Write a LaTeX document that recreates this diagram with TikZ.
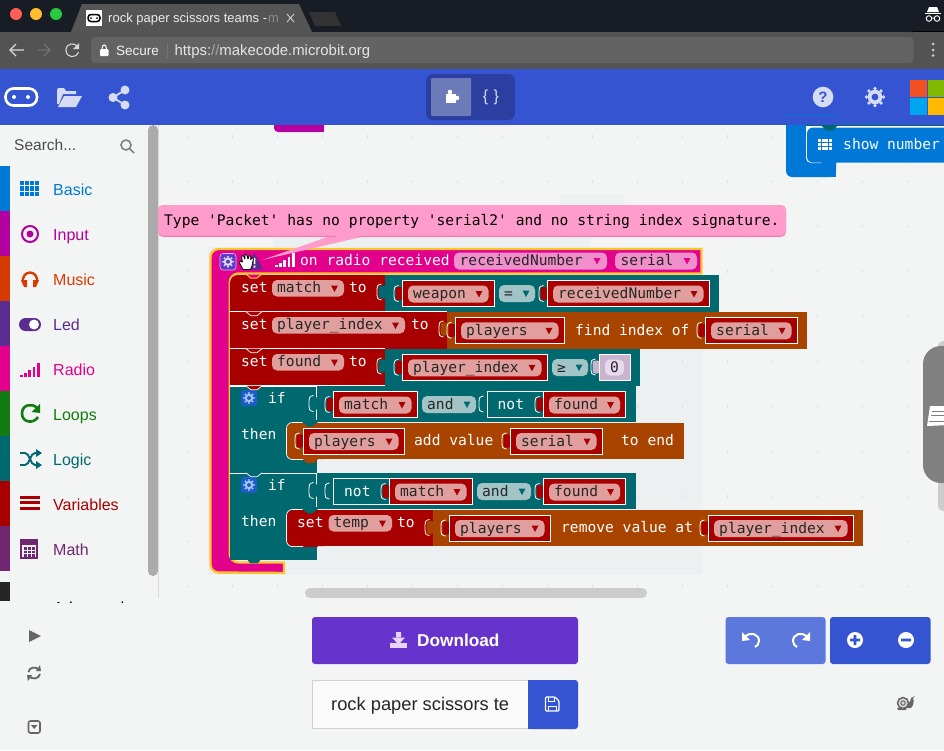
\documentclass[tikz,border=0pt]{standalone}
\usepackage{fontspec}
\setmainfont{Liberation Sans}
\newfontfamily\mono{DejaVu Sans Mono}
\newcommand{\blk}{\mono\fontsize{14.6}{16}\selectfont}
\newcommand{\ui}[1]{\fontsize{#1}{#1}\selectfont}
\definecolor{bgc}{HTML}{F3F5F4}
\definecolor{hlc}{HTML}{ECF0F1}
\definecolor{hdr}{HTML}{3454D1}
\definecolor{hdrd}{HTML}{2C3E9F}
\definecolor{hdra}{HTML}{6B7AB8}
\definecolor{tealb}{HTML}{006970}
\definecolor{redb}{HTML}{A80000}
\definecolor{brownb}{HTML}{A94400}
\definecolor{pinkb}{HTML}{E3008C}
\definecolor{pillr}{HTML}{E09F9C}
\definecolor{pillt}{HTML}{A2C4C6}
\definecolor{pillp}{HTML}{F08FCB}
\definecolor{yel}{HTML}{FFC52E}
\definecolor{iconl}{HTML}{D5DCF3}
\definecolor{tip}{HTML}{FF9CCB}
\definecolor{tipd}{HTML}{EE82B8}
\definecolor{tabbar}{HTML}{181C24}
\definecolor{tabc}{HTML}{555555}
\definecolor{toolc}{HTML}{535353}
\definecolor{addr}{HTML}{636363}
\definecolor{basicc}{HTML}{0078D7}
\definecolor{inputc}{HTML}{B4009E}
\definecolor{musicc}{HTML}{D83B01}
\definecolor{ledc}{HTML}{5C2D91}
\definecolor{loopc}{HTML}{107C10}
\definecolor{mathc}{HTML}{712672}
\definecolor{purp}{HTML}{6633CC}
\definecolor{undoc}{HTML}{5C78DC}
\definecolor{lav}{HTML}{C9B3CF}
\definecolor{lavl}{HTML}{E8D9EC}
\definecolor{tlr}{HTML}{FF5F57}
\definecolor{tly}{HTML}{FFBD2E}
\definecolor{tlg}{HTML}{28C940}
\definecolor{msr}{HTML}{F25022}
\definecolor{msg}{HTML}{7FBA00}
\definecolor{msb}{HTML}{00A4EF}
\definecolor{msy}{HTML}{FFB900}
\definecolor{gearb}{HTML}{1B5CC8}
\definecolor{gearl}{HTML}{A8C4F0}
\definecolor{dlic}{HTML}{E8D4F8}
\newcommand{\Bx}[6]{\fill[#5,rounded corners=#6pt] (#1,#2) rectangle (#3,#4);}
\newcommand{\Tx}[5]{\node[anchor=base west,inner sep=0pt,text=#1,font=#2] at (#3,#4) {#5};}
\newcommand{\Dn}[3]{\fill[#3] (#1-3.5,#2-3) -- (#1+3.5,#2-3) -- (#1,#2+3.5) -- cycle;}
% tab: x of block edge, y centre, colour
\newcommand{\Tb}[3]{\fill[#3,rounded corners=2.5pt] (#1-6.5,#2-6.5) rectangle (#1+1,#2+6.5);
 \draw[white,line width=.8pt] (#1-3.5,#2-8) .. controls (#1-8,#2-7.5) and (#1-8,#2-5) .. (#1-8,#2-3) -- (#1-8,#2+3) .. controls (#1-8,#2+5) and (#1-8,#2+7.5) .. (#1-3.5,#2+8);}
% value block: x0,x1,y0,text
\newcommand{\VB}[4]{\Tb{#1}{#3+13}{redb}
 \fill[redb,draw=white,line width=.8pt] (#1,#3) rectangle (#2,#3+26);
 \Bx{#1+6}{#3+5}{#2-5.5}{#3+22}{pillr}{5}
 \Tx{black!85}{\blk}{#1+11}{#3+18}{#4}
 \Dn{#2-15}{#3+13.5}{redb}}
% label pill on teal
\newcommand{\TP}[4]{\Bx{#1}{#2}{#3}{#2+17}{pillt}{5}
 \Tx{black!85}{\blk}{#1+5}{#2+13}{#4}
 \Dn{#3-9}{#2+8.5}{tealb}}
% label pill on red
\newcommand{\RP}[4]{\Bx{#1}{#2}{#3}{#2+16.5}{pillr}{5}
 \Tx{black!85}{\blk}{#1+5}{#2+12.5}{#4}
 \Dn{#3-9.5}{#2+8.5}{redb}}
% statement notch at separator
\newcommand{\Nt}[3]{\fill[#3] (#1-8,#2) -- (#1-3,#2+4) -- (#1+3,#2+4) -- (#1+8,#2) -- cycle;
 \draw[white,line width=.7pt] (#1-8,#2) -- (#1-3,#2+4) -- (#1+3,#2+4) -- (#1+8,#2);}
\newcommand{\Gr}[5]{\begin{scope}[shift={(#1,#2)}]
 \foreach \a in {0,45,...,315} {\fill[#4] (\a:#3) circle (.22*#3);}
 \fill[#4] (0,0) circle (.85*#3);\fill[#5] (0,0) circle (.4*#3);\end{scope}}
\newcommand{\GridIc}[4]{\foreach \i in {0,1,2,3}{\foreach \j in {0,1,2}{\fill[#3] (#1+\i*#4,#2+\j*#4*1.05) rectangle ++(#4*.82,#4*.85);}}}
\newcommand{\BarsIc}[3]{\foreach \i/\h in {0/2,1/4,2/7,3/10,4/14}{\fill[#3] (#1+\i*4.2,#2-\h) rectangle ++(2.8,\h);}}
\newcommand{\IfRow}[1]{% y0 = top of if block
 \fill[tealb] (230,#1) rectangle (316.5,#1+87);
 \fill[tealb] (316.5,#1) rectangle (636,#1+36);
 \draw[white,line width=.7pt] (316.5,#1) -- (316.5,#1+34);
 \draw[white,line width=.8pt] (230,#1) -- (316,#1);
 \Bx{241}{#1+4}{257}{#1+20}{gearb}{3}
 \Gr{249}{#1+12}{5}{gearl}{gearb}
 \Tx{white}{\blk}{268}{#1+17}{if}
 \Tx{white}{\blk}{241}{#1+53}{then}}
\begin{document}
\begin{tikzpicture}[x=1pt,y=-1pt]
\useasboundingbox (0,0) rectangle (944,750);
\clip (0,0) rectangle (944,750);
% page
\fill[bgc] (0,0) rectangle (944,750);
% ---------- browser chrome
\fill[tabbar] (0,0) rectangle (944,32);
\fill[tabc] (71,32) -- (82,4) -- (299,4) -- (312,32) -- cycle;
\fill[tlr] (16,14) circle (6);
\fill[tly] (36,14) circle (6);
\fill[tlg] (56,14) circle (6);
\Bx{86}{10}{102}{26}{white}{0}
\draw[black,line width=1.5pt,rounded corners=3pt] (88,14.5) rectangle (100,21.5);
\fill[black] (91,18) circle (1) (97,18) circle (1);
\Tx{white!92!black}{\ui{13}}{108}{22.5}{rock paper scissors teams -}
\Tx{white!55!black}{\ui{13}}{268}{22.5}{m}
\draw[white!80!black,line width=.9pt] (287,14) -- (294,22) (294,14) -- (287,22);
\fill[black!80] (309,12) -- (335,12) -- (341,26) -- (315,26) -- cycle;
% incognito
\fill[white] (929,7) -- (937,7) -- (939,12) -- (927,12) -- cycle;
\draw[white,line width=1pt] (925,13) -- (941,13);
\draw[white,line width=.9pt] (929,18.5) circle (2.8) (937,18.5) circle (2.8) (932,18) -- (934,18);
\fill[black] (913,31) rectangle (944,32);
% toolbar
\fill[toolc] (0,32) rectangle (944,69);
\Bx{91}{37}{913.5}{63}{addr}{4}
\draw[white!85!black,line width=1.1pt] (24,50) -- (10,50) (16,44) -- (10,50) -- (16,56);
\draw[white!45!black,line width=1.1pt] (50,50) -- (38,50) (44,44) -- (50,50) -- (44,56);
\draw[white!85!black,line width=1.1pt] (78,47) .. controls (75,42) and (66,43) .. (66,50) .. controls (66,58) and (76,59) .. (78.5,52);
\fill[white!85!black] (79,43) -- (79,49) -- (73,49) -- cycle;
\Bx{100}{49}{108.5}{56}{white}{1}
\draw[white,line width=1pt] (102,49) .. controls (102,43.5) and (106.5,43.5) .. (106.5,49);
\Tx{white!95!black}{\ui{13.5}}{116}{55}{Secure}
\draw[white!45!black,line width=.8pt] (167.5,43) -- (167.5,58);
\node[anchor=base west,inner sep=0pt,font=\ui{14.9},text=white!90!black] (url) at (174.5,55) {https:\textcolor{white!65!black}{//}makecode.microbit.org};
\fill[white!80!black] (933,44) circle (1.5) (933,50) circle (1.5) (933,55.5) circle (1.5);
% ---------- header
\fill[hdr] (0,69) rectangle (944,125);
\draw[white,line width=2.6pt,rounded corners=8pt] (5.5,88.5) rectangle (37,105.5);
\fill[white] (14,97) circle (2) (28,97) circle (2);
\fill[iconl] (57,104) -- (57,90) -- (58,88) -- (64,88) -- (66,91) -- (76,91) -- (76,94) -- (63,94) -- (59,104) -- cycle;
\fill[iconl] (64,96) -- (82,96) -- (76,107) -- (58,107) -- cycle;
\draw[iconl,line width=1.8pt] (125,90) -- (113,97.5) -- (125,105);
\fill[iconl] (125,90) circle (4.5) (113,97.5) circle (4.5) (125,105) circle (4.5);
\Bx{426}{74}{515}{120}{hdrd}{7}
\Bx{431}{78}{471}{116}{hdra}{1}
\fill[white] (446,94) rectangle (456,103);
\fill[white] (450,92) circle (2.3);
\fill[white] (457,98) circle (2.3);
\node[text=iconl,font=\ui{16},inner sep=0pt] (curly) at (491,97) {\{\,\,\}};
\fill[iconl] (823,97) circle (10.3);
\node[font=\bfseries\ui{15},text=hdr,inner sep=0pt] (help) at (823,97) {?};
\Gr{875}{97}{8.5}{iconl}{hdr}
\Bx{910}{80}{927}{97}{msr}{0}
\Bx{928}{80}{945}{97}{msg}{0}
\Bx{910}{98}{927}{115}{msb}{0}
\Bx{928}{98}{945}{115}{msy}{0}
% ---------- workspace grid & highlight
\fill[hlc] (561,195) rectangle (625,205);
\fill[hlc] (273,236) rectangle (590,247);
\fill[hlc] (208,247) rectangle (703,575);
\foreach \gx in {0,...,17}{\foreach \gy in {0,...,10}{
 \draw[blue!14!white,line width=.6pt] (187+\gx*45,136+\gy*45-1.5) -- (187+\gx*45,136+\gy*45+1.5);}}
% magenta stub
\fill[inputc,rounded corners=4pt] (274,120) rectangle (324,132);
\fill[inputc] (290,120) rectangle (324,132);
\fill[hdr] (270,110) rectangle (330,125);
% show number
\fill[basicc,rounded corners=6pt] (786,115) rectangle (836,177);
\fill[basicc] (786,115) rectangle (836,130);
\fill[basicc] (820,160) rectangle (836,177);
\fill[white,rounded corners=5pt] (806,120) rectangle (950,163);
\fill[tealb] (806,120) rectangle (950,126);
\fill[white] (806,125.5) rectangle (950,127);
\fill[basicc,rounded corners=6pt] (807,127.5) rectangle (950,162.7);
\fill[basicc] (830,127.5) rectangle (950,140);
\fill[tealb] (821,125) -- (826,130.5) -- (833,130.5) -- (838,125) -- cycle;
\fill[basicc] (818,159) -- (825,166) -- (833,166) -- (840,159) -- cycle;
\GridIc{818}{139}{white}{3.7}
\Tx{white}{\blk}{843}{149.5}{show number}
\fill[hdr] (780,116) rectangle (944,125);
% right handle
\Bx{938}{341}{960}{511}{white!80!black}{5}
\Bx{923}{346}{970}{483}{white!50!black}{18}
\fill[white] (930,406) -- (950,406) -- (950,425) -- (927,426) -- cycle;
\draw[white!50!black,line width=.8pt] (932,411) -- (944,411) (931,415) -- (944,415) (929,421) -- (944,421);
% ---------- toolbox
\fill[bgc] (0,125) rectangle (148,598);
\Tx{black!70}{\ui{15.5}}{14}{150.5}{Search...}
\draw[black!50,line width=1.6pt] (126,145) circle (5) (130,149) -- (134,153);
\foreach \cc/\yy/\lbl in {basicc/166/Basic,inputc/211/Input,musicc/256/Music,ledc/301/Led,pinkb/346/Radio,loopc/391/Loops,tealb/436/Logic,redb/481/Variables,mathc/526/Math}{
 \fill[\cc] (0,\yy) rectangle (10,\yy+45);
 \Tx{\cc}{\ui{16}}{53}{\yy+29}{\lbl}}
\GridIc{20}{181}{basicc}{5}
\draw[inputc,line width=2pt] (30,234) circle (8);
\fill[inputc] (30,234) circle (3.5);
\draw[musicc,line width=2.4pt] (23,283) .. controls (21,269) and (39,269) .. (37,283);
\fill[musicc] (21,280) -- (27,280) -- (27,287) -- (24,287) -- cycle;
\fill[musicc] (33,280) -- (39,280) -- (36,287) -- (33,287) -- cycle;
\Bx{19}{318}{41}{331}{ledc}{6.5}
\fill[white] (34,324.5) circle (5);
\BarsIc{20}{377}{pinkb}
\draw[loopc,line width=2.6pt] (37,408) .. controls (33,403) and (22,404) .. (22,413.5) .. controls (22,423) and (34,424) .. (38,417);
\fill[loopc] (40,404) -- (40,413) -- (31.5,412) -- cycle;
\draw[tealb,line width=1.9pt] (20,453) -- (25,453) .. controls (30,453) and (30,465) .. (35,465) -- (38,465) (20,465) -- (25,465) .. controls (30,465) and (30,453) .. (35,453) -- (38,453);
\fill[tealb] (36,449) -- (42,453) -- (36,457) -- cycle (36,461) -- (42,465) -- (36,469) -- cycle;
\foreach \yy in {497,502.5,508}{\fill[redb] (20,\yy-1.5) rectangle (40,\yy+1.5);}
\draw[mathc,line width=1.5pt] (21,540) rectangle (37,558);
\fill[mathc] (21,540) rectangle (37,545);
\foreach \i in {0,1,2}{\foreach \j in {0,1,2}{\fill[mathc] (23.5+\i*4,547+\j*3.5) rectangle ++(3,2.5);}}
\fill[black!85] (0,582) rectangle (10,601);
\begin{scope}
\clip (40,598) rectangle (148,602.5);
\Tx{black}{\ui{16}}{53}{613}{Advanced}
\end{scope}
\Bx{148}{125}{158}{576}{white!67!black}{5}
\draw[white!85!black,line width=.7pt] (158.8,125) -- (158.8,598);
% ---------- lower scrollbar
\Bx{305}{588}{647}{598}{white!80!black}{5}
% ---------- hat block
\draw[fill=pinkb,draw=yel,line width=2.4pt] (284,573) -- (284,562.5) [rounded corners=9pt] -- (229.7,562.5) -- (229.7,273.5) [sharp corners] -- (701.5,273.5) -- (701.5,249) [rounded corners=8pt] -- (210.5,249) -- (210.5,572.5) [sharp corners] -- cycle;
\Bx{220}{253.5}{236}{270}{purp}{3}
\Gr{228}{261.7}{5}{iconl}{purp}
\draw[white!70!purp,line width=.6pt,rounded corners=3pt] (220,253.5) rectangle (236,270);
\fill[tip] (333,235) -- (370,235) -- (262,260) -- cycle;
\fill[ledc] (254.5,253) -- (263,269.5) -- (246,269.5) -- cycle;
\fill[white] (253.7,258) rectangle (255.3,264) (253.7,265.5) rectangle (255.3,267.5);
\BarsIc{275}{267}{white}
\Tx{white}{\blk}{300}{265.5}{on radio received}
\Bx{454}{252.5}{607}{269.5}{pillp}{5}
\Tx{black!85}{\blk}{459.5}{265.5}{receivedNumber}
\Dn{597}{261}{pinkb}
\Bx{615}{252.5}{697}{269.5}{pillp}{5}
\Tx{black!85}{\blk}{620.5}{265.5}{serial}
\Dn{687}{261}{pinkb}
% ---------- tooltip
\fill[tipd,rounded corners=5pt] (158,205) rectangle (786,237);
\fill[tip,rounded corners=5pt] (158,205) rectangle (786,235.5);
\fill[tip] (333,234) -- (370,234) -- (340,240) -- cycle;
\Tx{black}{\blk}{164}{225}{Type 'Packet' has no property 'serial2' and no string index signature.}
% ---------- hand cursor
\draw[fill=white,draw=black,line width=.8pt,rounded corners=.8pt] (243,269.5) -- (239.5,263) -- (240,260.5) -- (242.5,262.5) -- (241.5,256) -- (243.5,255.5) -- (245,259.5) -- (245,254.5) -- (247,254.5) -- (248,259.5) -- (249,255.5) -- (251,256) -- (250.5,260) -- (252,257.5) -- (253.5,258.5) -- (252,266) -- (250.5,269.5) -- cycle;
% ---------- set match
\fill[redb,rounded corners=8pt] (230,311.5) -- (230,275) -- (300,275) [sharp corners] -- (300,311.5) -- cycle;
\fill[redb] (240,290) rectangle (385,311.5);
\fill[redb] (230,295) rectangle (240,311.5);
\fill[redb] (290,275) rectangle (385,295);
\fill[tealb] (385,275) rectangle (719,311.5);
\fill[pinkb,draw=yel,line width=1pt] (246,274) -- (250.5,278) -- (257,278) -- (262,274) -- cycle;
\Tb{385}{292}{tealb}
\Tx{white}{\blk}{241}{292.5}{set}
\RP{272}{280}{344}{match}
\Tx{white}{\blk}{349}{292.5}{to}
\VB{402}{494}{280.5}{weapon}
\TP{499}{285}{535}{=}
\VB{547}{709}{280.5}{receivedNumber}
% ---------- set player_index
\fill[redb] (230,312) rectangle (447,348.5);
\fill[brownb] (447,312) rectangle (807,348.5);
\draw[white,line width=.8pt] (230,311.7) -- (447,311.7);
\Nt{254}{311.7}{redb}
\Tb{447}{329}{brownb}
\Tx{white}{\blk}{241}{329.5}{set}
\RP{272}{317}{405}{player\_index}
\Tx{white}{\blk}{411}{329.5}{to}
\VB{455}{564}{317.3}{players}
\Tx{white}{\blk}{575}{335.5}{find index of}
\VB{705}{797}{317.3}{serial}
% ---------- set found
\fill[redb] (230,349) rectangle (385,385.5);
\fill[tealb] (385,349) rectangle (640,385.5);
\draw[white,line width=.8pt] (230,348.7) -- (385,348.7);
\Nt{254}{348.7}{redb}
\Tb{385}{366}{tealb}
\Tx{white}{\blk}{241}{366.5}{set}
\RP{272}{354}{344}{found}
\Tx{white}{\blk}{349}{366.5}{to}
\VB{402}{547}{354.3}{player\_index}
\TP{552}{359}{588}{≥}
\Tb{599}{367}{lav}
\fill[lav,draw=white,line width=.6pt] (599,354.3) rectangle (630,380.3);
\Bx{605}{359.5}{624}{375.5}{lavl}{5}
\Tx{black!85}{\blk}{610}{372.5}{0}
% ---------- if 1
\IfRow{386}
\draw[white,line width=.8pt] (230,385.8) -- (385,385.8);
\Nt{254}{385.8}{redb}
\Tb{317}{403.5}{tealb}
\VB{333}{417}{391.5}{match}
\TP{422}{396}{476}{and}
\Tb{487}{404}{tealb}
\draw[white,line width=.8pt] (543,391.5) -- (487,391.5) -- (487,417.5) -- (543,417.5);
\Tx{white}{\blk}{497.5}{409.5}{not}
\VB{543}{625.5}{391.5}{found}
% then row 1
\draw[white,line width=.8pt,rounded corners=6pt] (316.5,422.5) -- (286.5,422.5) -- (286.5,459.5) -- (320,459.5);
\fill[brownb,rounded corners=6pt] (287,423) rectangle (330,459);
\fill[brownb] (310,423) rectangle (684,459);
\fill[tealb] (302,422) -- (308,426.5) -- (312,426.5) -- (318,422) -- cycle;
\fill[brownb] (302,458) -- (307,463) -- (314,463) -- (319,458) -- cycle;
\VB{303}{404}{428}{players}
\Tx{white}{\blk}{414}{445.5}{add value}
\VB{510}{602}{428}{serial}
\Tx{white}{\blk}{621}{445.5}{to end}
% ---------- if 2
\IfRow{473}
\Nt{254}{472.8}{tealb}
\Tb{317}{490.5}{tealb}
\Tb{333}{491}{tealb}
\draw[white,line width=.8pt] (389,478.5) -- (333,478.5) -- (333,504.5) -- (389,504.5);
\Tx{white}{\blk}{344}{496.5}{not}
\VB{389}{472}{478.5}{match}
\TP{477}{483}{531}{and}
\VB{543}{625.5}{478.5}{found}
% then row 2
\draw[white,line width=.8pt,rounded corners=6pt] (316.5,509.5) -- (286.5,509.5) -- (286.5,546.5) -- (320,546.5);
\fill[redb,rounded corners=6pt] (287,510) rectangle (330,546);
\fill[redb] (310,510) rectangle (433,546);
\fill[brownb] (433,510) rectangle (863,546);
\fill[tealb] (302,509) -- (308,513.5) -- (312,513.5) -- (318,509) -- cycle;
\fill[redb] (302,545) -- (307,550) -- (314,550) -- (319,545) -- cycle;
\Tx{white}{\blk}{297}{527.5}{set}
\RP{328.5}{515}{392}{temp}
\Tx{white}{\blk}{397}{527.5}{to}
\Tb{433}{527.5}{brownb}
\VB{449}{550}{515}{players}
\Tx{white}{\blk}{561}{532.5}{remove value at}
\VB{708}{853}{515}{player\_index}
% bottom of teal
\fill[tealb,rounded corners=7pt] (230,540) rectangle (270,559);
\fill[tealb] (245,546.5) rectangle (316.5,559);
\fill[tealb] (230,540) rectangle (260,550);
\fill[tealb] (246,558) -- (250,563) -- (258,563) -- (262,558) -- cycle;
% ---------- bottom bar
\Bx{312}{617}{578}{664}{purp}{3}
\fill[dlic] (390,643) rectangle (407,648);
\fill[dlic] (396,632) rectangle (401,638) (392,637.5) -- (405,637.5) -- (398.5,644.5) -- cycle;
\Tx{white}{\bfseries\ui{17.2}}{417}{646}{Download}
\Bx{725.5}{617}{825.5}{664}{undoc}{3}
\Bx{830}{617}{930.5}{664}{hdr}{3}
\draw[white,line width=2pt] (745,637) .. controls (750,631) and (759,634) .. (759,641) .. controls (759,644) and (757,646) .. (755,647);
\fill[white] (742,632) -- (742,641) -- (750,640) -- cycle;
\draw[white,line width=2pt] (807,637) .. controls (802,631) and (793,634) .. (793,641) .. controls (793,644) and (795,646) .. (797,647);
\fill[white] (810,632) -- (810,641) -- (802,640) -- cycle;
\fill[white] (855,640) circle (8) (906,640) circle (8);
\fill[hdr] (850,638.7) rectangle (860,641.3) (853.7,635) rectangle (856.3,645) (901,638.7) rectangle (911,641.3);
\draw[white!82!black,line width=.8pt] (528,680.5) -- (312.5,680.5) -- (312.5,728.5) -- (528,728.5);
\fill[white!98!black] (313,681) rectangle (528,728);
\Bx{528}{680}{578}{729}{hdr}{3}
\fill[hdr] (528,680) rectangle (540,729);
\draw[white,line width=1.3pt,rounded corners=1pt] (545.5,697) -- (555,697) -- (559,701) -- (559,711) -- (545.5,711) -- cycle;
\draw[white,line width=1pt] (548.5,697) -- (548.5,701) -- (554,701) -- (554,697) (548.5,711) -- (548.5,706) -- (556,706) -- (556,711);
\Tx{black!85}{\ui{18.3}}{331}{710}{rock paper scissors te}
% left play etc
\fill[black!60] (29,630) -- (41,636) -- (29,642) -- cycle;
\draw[black!60,line width=1.8pt] (28.5,672) .. controls (29,667) and (36,666) .. (39,670) (40,674) .. controls (39,679) and (32,680) .. (29,676);
\fill[black!60] (40,665) -- (41,671) -- (36,671) -- cycle (28,681) -- (27,675) -- (32,675) -- cycle;
\draw[black!60,line width=1.6pt,rounded corners=2pt] (28.5,721) rectangle (40,733);
\fill[black!60] (31,725) -- (37.5,725) -- (34.2,729) -- cycle;
% snail
\fill[black!60] (897,708) -- (911,708) .. controls (914,705) and (914,700) .. (913,698) -- (915,696) -- (911,698) .. controls (910,703) and (909,703) .. (908,702) -- (906,710) -- (898,710) -- cycle;
\draw[black!60,fill=white!85!black,line width=1.5pt] (903,703) circle (5.5);
\draw[black!60,line width=1pt] (903,703) circle (2.2);
\end{tikzpicture}
\end{document}
